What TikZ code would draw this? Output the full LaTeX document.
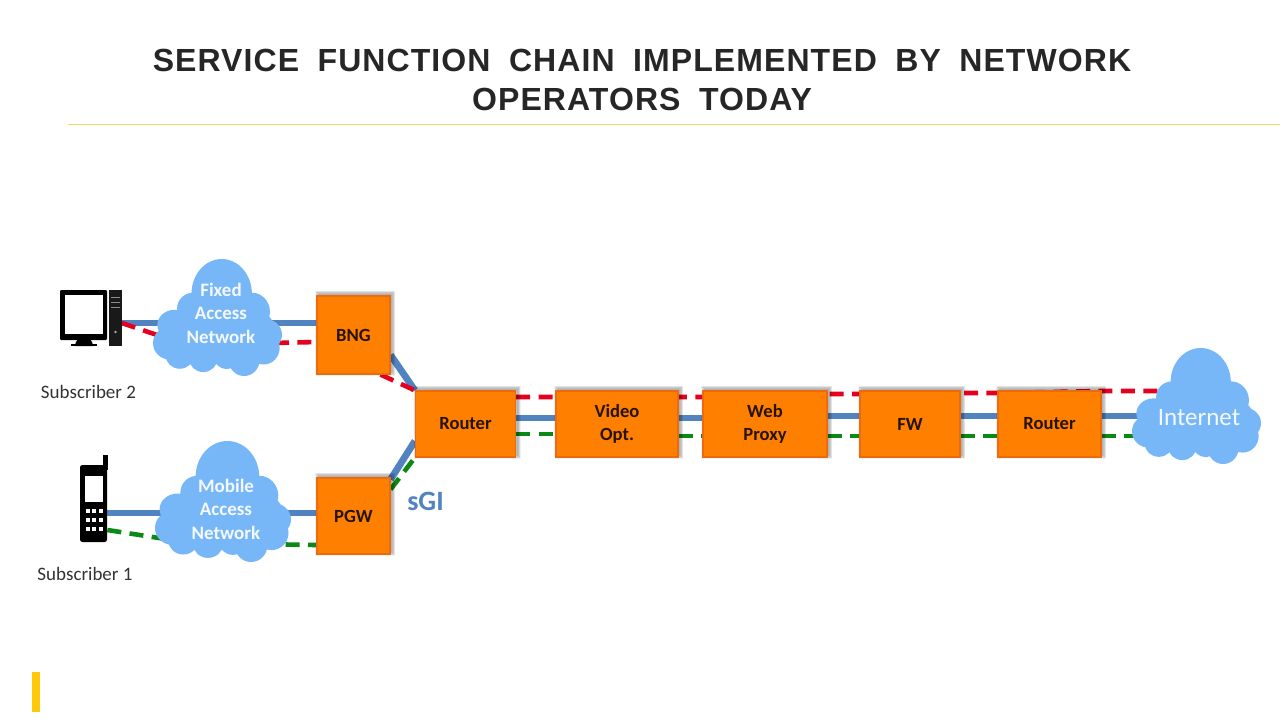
\documentclass[tikz,border=0pt]{standalone}
\usepackage{fontspec}
\setmainfont{Carlito}
\newfontfamily\titlefont[LetterSpace=3.4,WordSpace=1.85]{Liberation Sans}
\usetikzlibrary{calc}
\pgfdeclarelayer{bg}
\pgfsetlayers{bg,main}
\definecolor{boxfill}{HTML}{FF8000}
\definecolor{boxedge}{HTML}{EC6A10}
\definecolor{linkblue}{HTML}{5083C0}
\definecolor{linkred}{HTML}{E60020}
\definecolor{linkgreen}{HTML}{0A8A14}
\definecolor{cloudblue}{HTML}{78B7F7}
\definecolor{titleink}{HTML}{262626}
\definecolor{ruleyellow}{HTML}{EAD96A}
\definecolor{baryellow}{HTML}{FFC80A}
\newcommand{\lowered}[1]{\raisebox{-1pt}{#1}}
\tikzset{
  x=0.5pt,y=-0.5pt,
  halo/.style={preaction={draw=black,opacity=.055,line width=#1,transform canvas={shift={(.9pt,0.9pt)}}}},
  fnbox/.style={rectangle,fill=boxfill,draw=boxedge,line width=.6pt,inner sep=0pt,align=center,
     font=\fontsize{9.3}{11.8}\selectfont\bfseries,text=black!85!boxfill,
     halo=.6pt,halo=1.2pt,halo=1.8pt,halo=2.4pt,halo=3pt,halo=3.6pt},
  cloudtext/.style={inner sep=0pt,align=center,text=white!92!cloudblue,font=\fontsize{9.5}{11.8}\selectfont\bfseries},
  sublabel/.style={inner sep=0pt,text=black!80,font=\fontsize{9.5}{11}\selectfont},
  bluelink/.style={draw=linkblue,line width=3.4pt},
  redlink/.style={draw=linkred,line width=2.3pt,dash pattern=on 7pt off 4.2pt},
  greenlink/.style={draw=linkgreen,line width=2.3pt,dash pattern=on 7pt off 4.2pt},
  device/.style={inner sep=0pt,minimum width=#1},
}
\newcommand{\cloudat}[4]{% x0,y0,w,h in px
  \pgfmathsetmacro{\sx}{#3/385}\pgfmathsetmacro{\sy}{#4/355}
  \pgfmathsetmacro{\ox}{#1-370*\sx}\pgfmathsetmacro{\oy}{#2-25*\sy}
  \begin{scope}[shift={(\ox,\oy)},xscale=\sx,yscale=\sy]
    \fill[cloudblue]
      (575,130) ellipse [x radius=90,y radius=105]
      (490,175) ellipse [x radius=48,y radius=48]
      (435,225) ellipse [x radius=52,y radius=46]
      (420,280) ellipse [x radius=50,y radius=50]
      (450,318) ellipse [x radius=42,y radius=40]
      (520,328) ellipse [x radius=42,y radius=40]
      (590,322) ellipse [x radius=38,y radius=37]
      (642,332) ellipse [x radius=46,y radius=48]
      (700,295) ellipse [x radius=48,y radius=50]
      (705,255) ellipse [x radius=50,y radius=48]
      (665,185) ellipse [x radius=54,y radius=58]
      (570,245) ellipse [x radius=165,y radius=100];
  \end{scope}
}
\begin{document}
\begin{tikzpicture}
\useasboundingbox (0,0) rectangle (1280,720);
\begin{pgfonlayer}{bg}
\fill[white] (0,0) rectangle (1280,720);
\end{pgfonlayer}

% title
\node (title) at (642,80) [inner sep=0pt,align=center,text=titleink,
  font=\titlefont\fontsize{16}{19.4}\selectfont\bfseries]
  {SERVICE FUNCTION CHAIN IMPLEMENTED BY NETWORK\\OPERATORS TODAY};
\draw[ruleyellow,line width=.5pt] (68,124.5) -- (1280,124.5);
\fill[baryellow] (32,672) rectangle (40,712);

% clouds
\cloudat{153}{259}{129}{117}
\cloudat{155}{441}{136}{121}
\cloudat{1132}{348}{129}{116}
\node (fixed) at (221,313) [cloudtext] {Fixed\\Access\\Network};
\node (mobile) at (226,509) [cloudtext] {Mobile\\Access\\Network};
\node (internet) at (1199,418) [cloudtext,font=\fontsize{12.5}{14}\selectfont] {Internet};

% function boxes
\node (bng) at (353.5,335) [fnbox,minimum width=36.5pt,minimum height=39pt] {\lowered{BNG}};
\node (pgw) at (353.5,516) [fnbox,minimum width=36.5pt,minimum height=38pt] {\lowered{PGW}};
\node (r1) at (465.5,424) [fnbox,minimum width=50pt,minimum height=33pt] {\lowered{Router}};
\node (video) at (617,424) [fnbox,minimum width=61pt,minimum height=33pt] {\lowered{Video}\\\lowered{Opt.}};
\node (web) at (765,424) [fnbox,minimum width=62pt,minimum height=33pt] {\lowered{Web}\\\lowered{Proxy}};
\node (fw) at (910,424) [fnbox,minimum width=50pt,minimum height=33pt] {\lowered{FW}};
\node (r2) at (1049.5,424) [fnbox,minimum width=51.5pt,minimum height=33pt] {\lowered{Router}};

% computer
\node (pc) at (91,318) [device=30.5pt,minimum height=28pt] {};
\fill[black,rounded corners=.6pt] (60,290) rectangle (107,340);
\fill[white] (65,295) rectangle (103,334);
\fill[black] (75,346) arc[start angle=180,end angle=360,x radius=9,y radius=9] -- cycle;
\fill[black] (71,344) rectangle (97,346);
\fill[black!90] (109,290) rectangle (122,346);
\foreach \yy in {297,302,307} \draw[black!45,line width=.4pt] (111,\yy) -- (120,\yy);
\fill[black!35] (115.5,332) circle (1.4);

% phone
\node (phone) at (93.5,498) [device=13.5pt,minimum height=43pt] {};
\fill[black,rounded corners=1.2pt] (80,465) rectangle (107,542);
\fill[black] (103,455) rectangle (108,470);
\fill[white] (85,476) rectangle (103,502);
\foreach \xx in {87.5,94,101} \foreach \yy in {511,520,529}
  \fill[white] (\xx-2,\yy-2) rectangle (\xx+2,\yy+2);

% labels
\node (sub2) at (88.5,392) [sublabel] {Subscriber 2};
\node (sub1) at (85,574) [sublabel] {Subscriber 1};
\node (sgi) at (425.5,501) [inner sep=0pt,text=linkblue,font=\fontsize{14}{16}\selectfont\bfseries] {sGI};

% connectors behind clouds and boxes
\begin{pgfonlayer}{bg}
  \path[bluelink] ([yshift=-2.5pt]pc.east) -- ([yshift=6pt]bng.west);
  \path[redlink] ([yshift=-2.5pt]pc.east) -- ([yshift=-16pt]fixed.west) -- ([yshift=-3.5pt]bng.west);
  \path[bluelink] ([yshift=-7.5pt]phone.east) -- ([yshift=1.5pt]pgw.west);
  \path[greenlink] ([yshift=-16pt]phone.east) -- ([yshift=-17pt]mobile.west) -- ([yshift=-14.5pt]pgw.west);
  \path[bluelink] ([yshift=-10pt]bng.east) -- (r1.north west);
  \path[redlink] ([xshift=-5pt]bng.south east) -- (r1.north west);
  \path[bluelink] ([yshift=-1pt]pgw.north east) -- ([yshift=-8.5pt]r1.west);
  \path[greenlink] ([yshift=-6pt]pgw.north east) -- (r1.south west);
  \path[bluelink] ([yshift=3pt]r1.east) -- ([yshift=3pt]video.west);
  \path[bluelink] ([yshift=3pt]video.east) -- ([yshift=3pt]web.west);
  \path[bluelink] ([yshift=4pt]web.east) -- ([yshift=4pt]fw.west);
  \path[bluelink] ([yshift=4pt]fw.east) -- ([yshift=4pt]r2.west);
  \path[bluelink] ([yshift=4pt]r2.east) -- ([yshift=1pt]internet.west);
  \path[redlink] ([yshift=13.5pt]r1.east) -- ([yshift=13.5pt]video.west) -- ([yshift=13.5pt]video.east) -- ([yshift=13.5pt]web.west) -- ([yshift=15pt]web.east) -- ([yshift=15pt]fw.west) -- ([yshift=15.5pt]fw.east) -- ([yshift=15.5pt]r2.west) -- ([yshift=16.5pt]r2.east) -- ([yshift=13.5pt]internet.west);
  \path[greenlink] ([yshift=-5pt]r1.east) -- ([yshift=-5pt]video.west);
  \path[greenlink] ([yshift=-6pt]video.east) -- ([yshift=-6pt]web.west);
  \path[greenlink] ([yshift=-6pt]web.east) -- ([yshift=-6pt]fw.west);
  \path[greenlink] ([yshift=-6pt]fw.east) -- ([yshift=-6pt]r2.west);
  \path[greenlink] ([yshift=-6pt]r2.east) -- ([yshift=-9pt]internet.west);
\end{pgfonlayer}
\end{tikzpicture}
\end{document}
